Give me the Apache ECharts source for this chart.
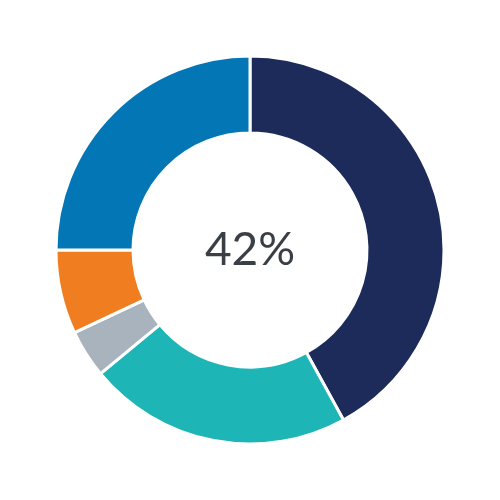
<!DOCTYPE html>
<html>
<head>
<meta charset="utf-8">
<script src="https://cdn.jsdelivr.net/npm/echarts@6/dist/echarts.min.js"></script>
<style>
  html, body { margin: 0; padding: 0; background: #fff; }
  #box { width: 500px; height: 500px; }
</style>
</head>
<body>
<div id="box"></div>
<script>
// 各部分名称、数值和颜色
var names = ['A', 'B', 'C', 'D', 'E'];
var values = [42, 22, 4, 7, 25];
var colors = ['#1c2b5a', '#1db5b5', '#a9b3be', '#f07d1f', '#0377b5'];
var centerText = '42%';

var myChart = echarts.init(document.getElementById('box'));

var pieData = [];
for (var i = 0; i < values.length; i++) {
	pieData.push({ name: names[i], value: values[i], itemStyle: { color: colors[i] } });
}

var option = {
	animation: false,
	title: {
		text: centerText,
		left: 'center',
		top: 'middle',
		textStyle: {
			fontFamily: 'Lato',
			fontWeight: 'normal',
			fontSize: 46,
			color: '#3a3f45'
		}
	},
	series: [{
		type: 'pie',
		center: [250, 250],
		radius: [117, 194],
		startAngle: 90,
		clockwise: true,
		label: { show: false },
		labelLine: { show: false },
		itemStyle: { borderColor: '#fff', borderWidth: 3 },
		emphasis: { disabled: true },
		data: pieData
	}]
};
myChart.setOption(option);
</script>
</body>
</html>
